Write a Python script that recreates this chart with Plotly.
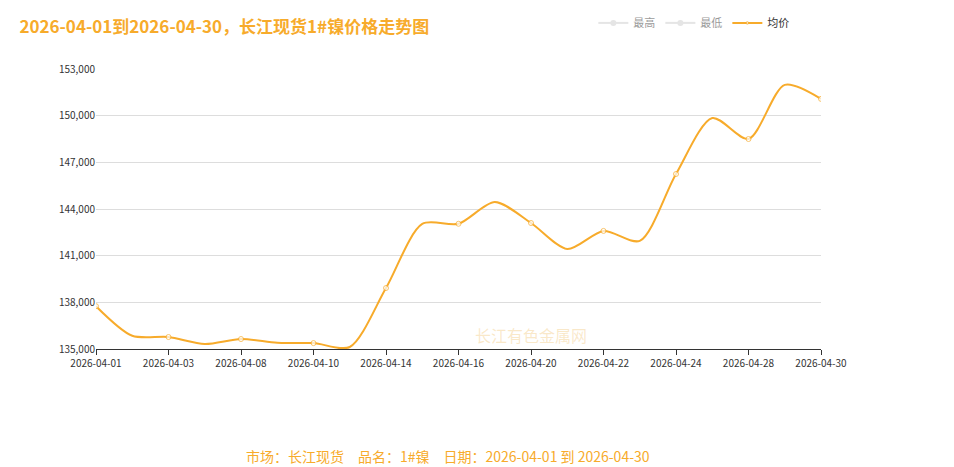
import plotly.graph_objects as go

dates = ["2026-04-01","2026-04-02","2026-04-03","2026-04-07","2026-04-08","2026-04-09","2026-04-10",
         "2026-04-13","2026-04-14","2026-04-15","2026-04-16","2026-04-17","2026-04-20","2026-04-21",
         "2026-04-22","2026-04-23","2026-04-24","2026-04-27","2026-04-28","2026-04-29","2026-04-30"]
avg = [137750,135850,135770,135320,135640,135400,135380,135130,138920,143040,143050,144450,
       143100,141430,142590,141950,146250,149850,148500,151980,151080]

orange = "#F7AB2B"
fig = go.Figure()
fig.add_trace(go.Scatter(x=dates, y=avg, name="最高", visible="legendonly",
                         mode="lines+markers", line=dict(color="#ccc")))
fig.add_trace(go.Scatter(x=dates, y=avg, name="最低", visible="legendonly",
                         mode="lines+markers", line=dict(color="#ccc")))
fig.add_trace(go.Scatter(x=dates, y=avg, name="均价", mode="lines+markers",
                         line=dict(color=orange, width=2, shape="spline", smoothing=0.8),
                         marker=dict(size=[5 if i % 2 == 0 else 0 for i in range(len(dates))],
                                     color="white", line=dict(color=orange, width=1))))

fig.update_layout(
    width=954, height=467, plot_bgcolor="white", paper_bgcolor="white",
    margin=dict(l=88, r=141, t=61, b=126, autoexpand=False),
    font=dict(family="Noto Sans CJK SC", size=11, color="#333"),
    title=dict(text="<b>2026-04-01到2026-04-30，长江现货1#镍价格走势图</b>",
               x=0.012, xanchor="left", y=0.973, font=dict(size=17, color=orange)),
    legend=dict(orientation="h", x=0.686, y=0.937, yanchor="bottom", yref="container",
                font=dict(size=11, color="#333"), itemwidth=30),
    xaxis=dict(type="category", tickvals=dates[::2], showgrid=False, showline=True,
               linecolor="#333", ticks="outside", tickcolor="#333", ticklen=5,
               tickfont=dict(size=10), range=[0, len(dates)-1]),
    yaxis=dict(range=[135000, 153000], tickvals=list(range(135000, 153001, 3000)),
               tickformat=",", gridcolor="#ddd", zeroline=False, tickfont=dict(size=10)),
)
fig.add_annotation(text="长江有色金属网", x=0.60, y=0.0, xref="paper", yref="paper",
                   showarrow=False, font=dict(size=16, color="rgba(240,190,100,0.35)"))
fig.add_annotation(text="市场：长江现货　品名：1#镍　日期：2026-04-01 到 2026-04-30",
                   x=0.486, y=-0.425, xref="paper", yref="paper", showarrow=False,
                   font=dict(size=14, color=orange))
fig.write_html("out.html")
